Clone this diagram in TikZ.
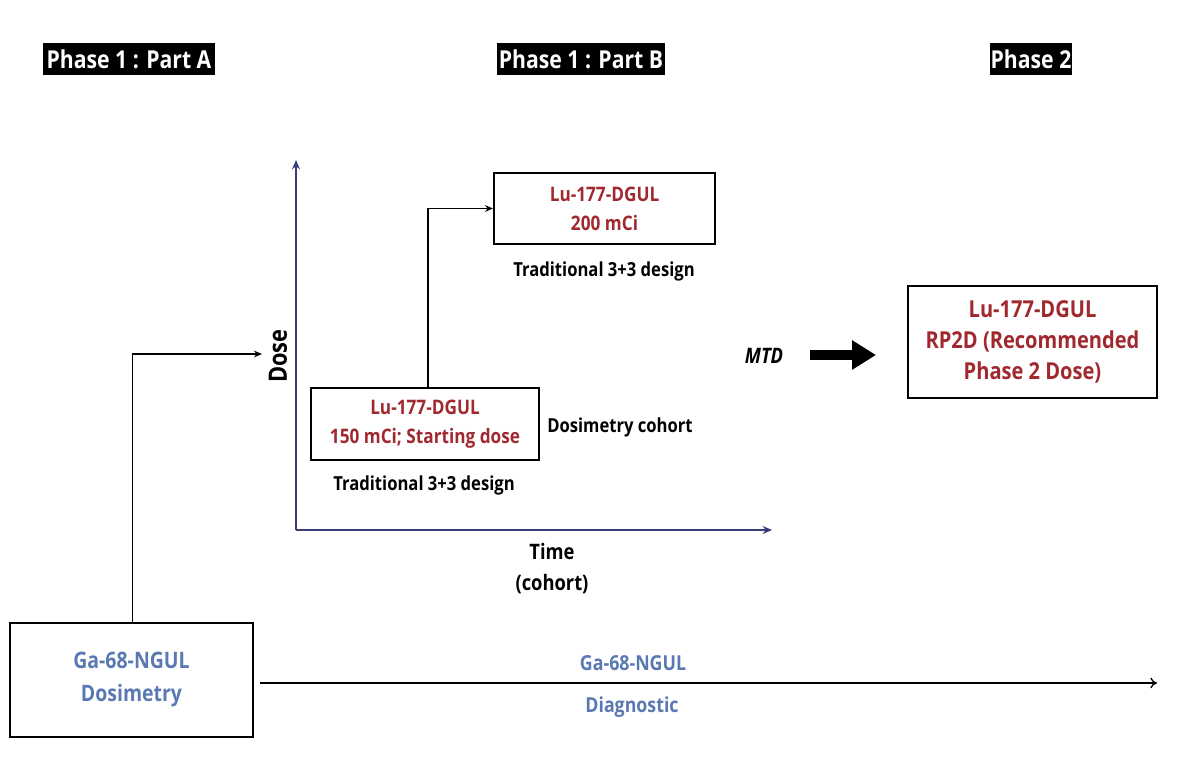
\documentclass[tikz,border=0pt]{standalone}
\usepackage{fontspec}
\setmainfont{Open Sans}[FakeStretch=0.86]
\usetikzlibrary{arrows.meta}
\definecolor{dred}{HTML}{A0282E}
\definecolor{gblue}{HTML}{5A78B2}
\definecolor{axisc}{HTML}{3A3E78}
\begin{document}
\begin{tikzpicture}[x=0.75pt,y=-0.75pt,
  phase/.style={fill=black,text=white,font=\fontsize{18.5}{20}\selectfont\bfseries,inner sep=0pt,minimum height=24pt},
  box/.style={draw=black,line width=1.5pt,align=center,inner sep=0pt,text=dred,font=\fontsize{15}{21.75}\selectfont\bfseries},
  lbl/.style={font=\fontsize{14.5}{16}\selectfont\bfseries,inner sep=0pt},
  conn/.style={line width=0.9pt,-{Stealth[length=6pt,width=5pt]}},
  axis/.style={draw=axisc,line width=1.2pt,-{Stealth[length=7pt,width=6pt]}}]
\useasboundingbox (0,0) rectangle (1182,766);
% phase headers
\node[phase,minimum width=129pt] (pA) at (129,59) {Phase 1 : Part A};
\node[phase,minimum width=126pt] (pB) at (581,59) {Phase 1 : Part B};
\node[phase,minimum width=61.5pt] (p2) at (1031,59) {Phase 2};
% axes
\coordinate (orig) at (296,530);
\coordinate (ytop) at (296,160);
\coordinate (xend) at (772,530);
\draw[axis] (orig) -- (ytop);
\draw[axis] (orig) -- (xend);
\node[lbl,rotate=90,font=\fontsize{19}{20}\selectfont\bfseries] (dose) at (278,356) {Dose};
\node[lbl,font=\fontsize{16}{18}\selectfont\bfseries] (time) at (552,551) {Time};
\node[lbl,font=\fontsize{16}{18}\selectfont\bfseries] (coh) at (552,584) {(cohort)};
% boxes
\node[box,minimum width=171pt,minimum height=54pt] (b150) at (425,424) {Lu-177-DGUL\\150 mCi; Starting dose};
\node[box,minimum width=165.75pt,minimum height=53.25pt] (b200) at (604.5,208.5) {Lu-177-DGUL\\200 mCi};
\node[box,font=\fontsize{17.5}{23}\selectfont\bfseries,minimum width=186.75pt,minimum height=84pt] (bp2) at (1032.5,342) {Lu-177-DGUL\\RP2D (Recommended\\Phase 2 Dose)};
\node[box,line width=2.2pt,text=gblue,font=\fontsize{17}{24.75}\selectfont\bfseries,minimum width=182.25pt,minimum height=85.5pt] (ga) at (131.5,680) {Ga-68-NGUL\\Dosimetry};
% labels
\node[lbl] (t1) at (424,485) {Traditional 3+3 design};
\node[lbl] (t2) at (604,271) {Traditional 3+3 design};
\node[lbl] (dc) at (620,427) {Dosimetry cohort};
\node[lbl,font=\fontsize{16}{18}\selectfont\bfseries\itshape] (mtd) at (764,356) {MTD};
\node[lbl,text=gblue,font=\fontsize{15.5}{18}\selectfont\bfseries] (gl1) at (633,663) {Ga-68-NGUL};
\node[lbl,text=gblue,font=\fontsize{15.5}{18}\selectfont\bfseries] (gl2) at (632,707) {Diagnostic};
% connectors
\coordinate (dosein) at (262,354);
\draw[conn] ([xshift=1pt]ga.north) |- (dosein);
\draw[conn] ([xshift=2.25pt]b150.north) |- (b200.west);
\coordinate (thstart) at (810,355);
\coordinate (thend) at (876,355);
\draw[line width=7.5pt,-{Triangle[length=18pt,width=21pt]}] (thstart) -- (thend);
\coordinate (diagstart) at (260,683);
\coordinate (diagend) at (1157,683);
\draw[line width=1pt,-{To[length=5pt,width=8pt]}] (diagstart) -- (diagend);
\end{tikzpicture}
\end{document}
